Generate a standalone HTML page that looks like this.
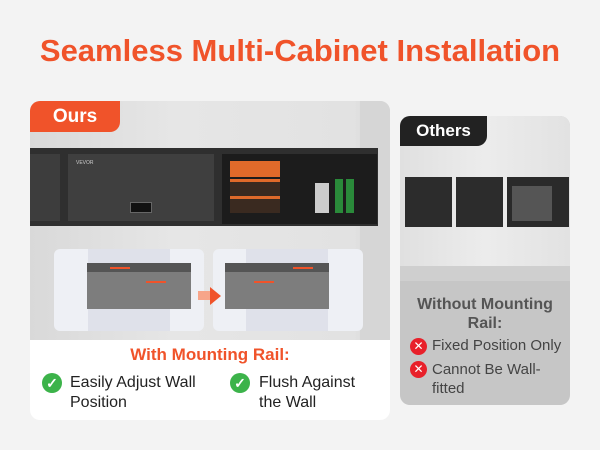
<!DOCTYPE html>
<html><head><style>
body{margin:0;width:600px;height:450px;background:#f3f3f3;font-family:"Liberation Sans",sans-serif;position:relative;overflow:hidden}
.a{position:absolute}
</style></head><body>
<div class="a" style="left:0;top:33px;width:600px;text-align:center;color:#f0532a;font-size:31px;font-weight:bold;letter-spacing:0px">Seamless Multi-Cabinet Installation</div>

<!-- left card -->
<div class="a" style="left:30px;top:101px;width:360px;height:319px;border-radius:10px;overflow:hidden;background:#fff">
 <div class="a" style="left:0;top:0;width:360px;height:239px;background:linear-gradient(90deg,#d9d9d9,#e6e6e6 40%,#e2e2e2 90%,#cfcfcf)"></div>
 <div class="a" style="left:330px;top:0;width:30px;height:239px;background:#d6d6d6"></div>
 <!-- cabinets -->
 <div class="a" style="left:0;top:47px;width:348px;height:78px;background:#2f2f2f"></div>
 <div class="a" style="left:0;top:53px;width:30px;height:67px;background:#3d3d3d"></div>
 <div class="a" style="left:38px;top:53px;width:146px;height:67px;background:#3f3f3f"></div>
 <div class="a" style="left:46px;top:59px;font-size:5px;color:#ccc">VEVOR</div>
 <div class="a" style="left:100px;top:101px;width:20px;height:9px;background:#111;border:1px solid #666"></div>
 <div class="a" style="left:192px;top:53px;width:155px;height:70px;background:#1c1c1c"></div>
 <div class="a" style="left:200px;top:60px;width:50px;height:16px;background:#e06a2a"></div>
 <div class="a" style="left:200px;top:78px;width:50px;height:14px;background:#3a2a20;border-top:3px solid #e06a2a"></div>
 <div class="a" style="left:200px;top:95px;width:50px;height:14px;background:#3a2a20;border-top:3px solid #e06a2a"></div>
 <div class="a" style="left:305px;top:78px;width:8px;height:34px;background:#2a8a3a"></div>
 <div class="a" style="left:316px;top:78px;width:8px;height:34px;background:#2a8a3a"></div>
 <div class="a" style="left:285px;top:82px;width:14px;height:30px;background:#ccc"></div>
 <!-- insets -->
 <div class="a" style="left:24px;top:148px;width:150px;height:82px;border-radius:6px;background:#eef0f5"></div>
 <div class="a" style="left:58px;top:148px;width:82px;height:82px;background:#dfe1ea"></div>
 <div class="a" style="left:57px;top:162px;width:104px;height:46px;background:#7d7d7d"></div>
 <div class="a" style="left:57px;top:162px;width:104px;height:9px;background:#555"></div>
 <div class="a" style="left:80px;top:166px;width:20px;height:2px;background:#f0532a"></div>
 <div class="a" style="left:116px;top:180px;width:20px;height:2px;background:#f0532a"></div>
 <div class="a" style="left:183px;top:148px;width:150px;height:82px;border-radius:6px;background:#eef0f5"></div>
 <div class="a" style="left:216px;top:148px;width:82px;height:82px;background:#dfe1ea"></div>
 <div class="a" style="left:195px;top:162px;width:104px;height:46px;background:#7d7d7d"></div>
 <div class="a" style="left:195px;top:162px;width:104px;height:9px;background:#555"></div>
 <div class="a" style="left:263px;top:166px;width:20px;height:2px;background:#f0532a"></div>
 <div class="a" style="left:224px;top:180px;width:20px;height:2px;background:#f0532a"></div>
 <div class="a" style="left:168px;top:190px;width:12px;height:9px;background:#f7a58a"></div>
 <div class="a" style="left:180px;top:186px;width:0;height:0;border-left:11px solid #f0532a;border-top:9px solid transparent;border-bottom:9px solid transparent"></div>
 <div class="a" style="left:0;top:0;width:90px;height:31px;background:#f0532a;border-radius:0 0 10px 0;color:#fff;font-weight:bold;font-size:19px;line-height:31px;text-align:center">Ours</div>
 <div class="a" style="left:0;top:244px;width:360px;text-align:center;color:#f0532a;font-weight:bold;font-size:17px">With Mounting Rail:</div>
 <div class="a" style="left:12px;top:272px;width:20px;height:20px;border-radius:50%;background:#3cb34a;color:#fff;font-size:14px;line-height:20px;text-align:center;font-weight:bold">✓</div>
 <div class="a" style="left:40px;top:272px;font-size:16px;color:#222;line-height:20px">Easily Adjust Wall<br>Position</div>
 <div class="a" style="left:200px;top:272px;width:20px;height:20px;border-radius:50%;background:#3cb34a;color:#fff;font-size:14px;line-height:20px;text-align:center;font-weight:bold">✓</div>
 <div class="a" style="left:229px;top:272px;font-size:16px;color:#222;line-height:20px">Flush Against<br>the Wall</div>
</div>

<!-- right card -->
<div class="a" style="left:400px;top:116px;width:170px;height:289px;border-radius:10px;overflow:hidden;background:#c6c6c6">
 <div class="a" style="left:0;top:0;width:170px;height:165px;background:linear-gradient(90deg,#e0e0e0,#ececec 50%,#e2e2e2)"></div>
 <div class="a" style="left:0;top:150px;width:170px;height:15px;background:#cfcfcf"></div>
 <div class="a" style="left:5px;top:61px;width:47px;height:50px;background:#2c2c2c"></div>
 <div class="a" style="left:56px;top:61px;width:47px;height:50px;background:#2c2c2c"></div>
 <div class="a" style="left:107px;top:61px;width:62px;height:50px;background:#2a2a2a"></div>
 <div class="a" style="left:112px;top:70px;width:40px;height:35px;background:#555"></div>
 <div class="a" style="left:0;top:0;width:87px;height:30px;background:#222;border-radius:0 0 10px 0;color:#fff;font-weight:bold;font-size:17px;line-height:30px;text-align:center">Others</div>
 <div class="a" style="left:0;top:179px;width:170px;text-align:center;color:#555;font-weight:bold;font-size:16px;line-height:19px">Without Mounting<br>Rail:</div>
 <div class="a" style="left:10px;top:222px;width:17px;height:17px;border-radius:50%;background:#e8202a;color:#fff;font-size:12px;line-height:17px;text-align:center">✕</div>
 <div class="a" style="left:32px;top:221px;font-size:15px;color:#444">Fixed Position Only</div>
 <div class="a" style="left:10px;top:245px;width:17px;height:17px;border-radius:50%;background:#e8202a;color:#fff;font-size:12px;line-height:17px;text-align:center">✕</div>
 <div class="a" style="left:32px;top:244px;font-size:15px;color:#444;line-height:19px">Cannot Be Wall-<br>fitted</div>
</div>
</body></html>
